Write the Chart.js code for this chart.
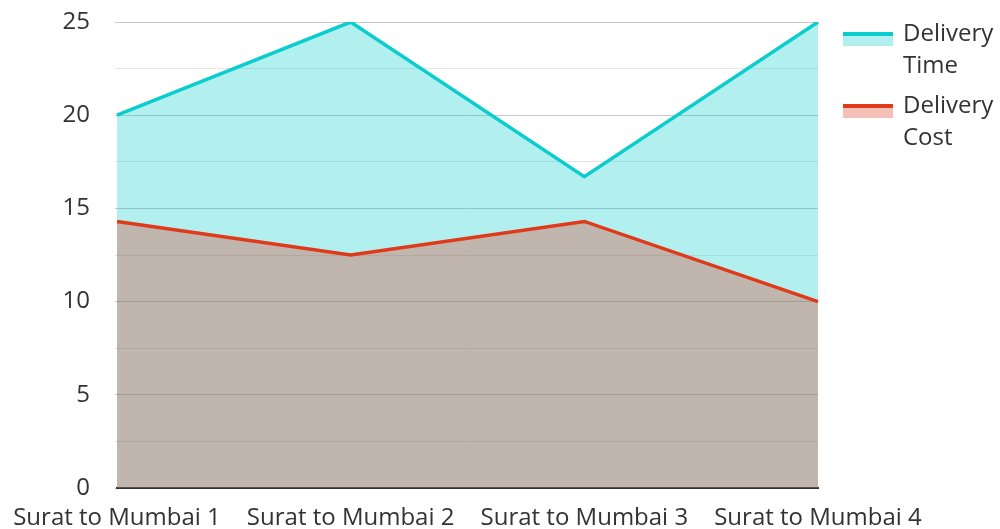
<!DOCTYPE html>
<html>
<head>
<meta charset="utf-8">
<script src="https://cdn.jsdelivr.net/npm/chart.js@4/dist/chart.umd.min.js"></script>
<style>
  html, body { margin: 0; padding: 0; background: #fff; }
  #wrap { width: 1000px; height: 529px; position: relative; }
</style>
</head>
<body>
<div id="wrap"><canvas id="deliveryChart"></canvas></div>
<script>
const routes = ['Surat to Mumbai 1', 'Surat to Mumbai 2', 'Surat to Mumbai 3', 'Surat to Mumbai 4'];
const deliveryTime = [20, 25, 16.7, 25];
const deliveryCost = [14.3, 12.5, 14.3, 10];
const yTicks = [0, 5, 10, 15, 20, 25];

const FONT = '"Open Sans", "DejaVu Sans", sans-serif';

// legend drawn by hand: line on top of a fill swatch, two-line labels
const sideLegend = {
  id: 'sideLegend',
  afterDraw(chart) {
    const ctx = chart.ctx;
    const x0 = chart.chartArea.right + 25;
    ctx.save();
    ctx.font = '24px ' + FONT;
    ctx.textBaseline = 'middle';
    chart.data.datasets.forEach((ds, i) => {
      const top = 32 + i * 72;
      ctx.fillStyle = ds.backgroundColor;
      ctx.fillRect(x0, top + 3, 50, 11);
      ctx.fillStyle = ds.borderColor;
      ctx.fillRect(x0, top, 50, 4);
      ctx.fillStyle = '#333';
      ds.legendLines.forEach((t, j) => {
        ctx.fillText(t, x0 + 60, top + 2 + j * 32);
      });
    });
    ctx.restore();
  }
};

new Chart(document.getElementById('deliveryChart'), {
  type: 'line',
  data: {
    labels: routes,
    datasets: [{
      label: 'Delivery Time',
      legendLines: ['Delivery', 'Time'],
      data: deliveryTime,
      order: 1,
      borderColor: '#0ccdcd',
      backgroundColor: 'rgba(0, 204, 204, 0.3)',
      borderWidth: 3.5,
      pointRadius: 0,
      tension: 0,
      fill: 'origin'
    }, {
      label: 'Delivery Cost',
      legendLines: ['Delivery', 'Cost'],
      data: deliveryCost,
      order: 0,
      borderColor: '#e03a1a',
      backgroundColor: 'rgba(224, 60, 30, 0.32)',
      borderWidth: 3.5,
      pointRadius: 0,
      tension: 0,
      fill: 'origin'
    }]
  },
  options: {
    responsive: true,
    maintainAspectRatio: false,
    animation: false,
    layout: { padding: { left: 12, right: 182, top: 22, bottom: 0 } },
    plugins: {
      legend: { display: false },
      tooltip: { enabled: false }
    },
    scales: {
      x: {
        offset: false,
        afterFit: s => { s.height = 41; s.paddingLeft = 0; s.paddingRight = 0; },
        grid: { display: false },
        border: { display: true, color: '#333', width: 2 },
        ticks: { color: '#333', font: { family: FONT, size: 24 }, padding: 8, maxRotation: 0, autoSkip: false }
      },
      y: {
        min: 0,
        max: 25,
        afterFit: s => { s.width = 105; s.paddingTop = 0; s.paddingBottom = 0; },
        border: { display: false },
        grid: {
          drawTicks: true,
          tickLength: 2,
          color: c => (c.tick && c.tick.value % 5 === 0) ? '#c8c8c8' : '#e6e6e6'
        },
        ticks: {
          stepSize: 2.5,
          padding: 25,
          color: '#333',
          font: { family: FONT, size: 24 },
          callback: v => yTicks.includes(v) ? v : ''
        }
      }
    }
  },
  plugins: [sideLegend]
});
</script>
</body>
</html>
